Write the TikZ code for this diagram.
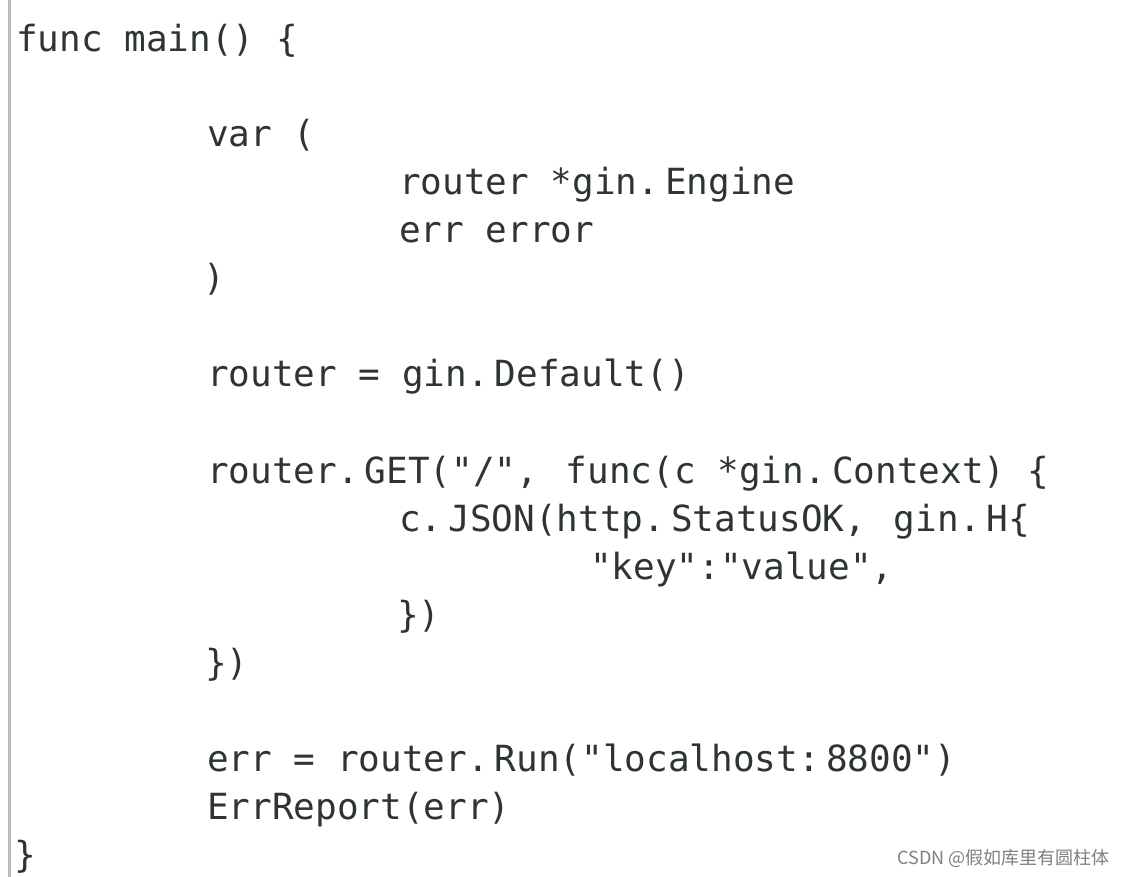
\documentclass[tikz,border=0pt]{standalone}
\usepackage{fontspec}
\newfontfamily\codefont{DejaVu Sans Mono}
\newfontfamily\cjk{Noto Sans CJK SC}
\definecolor{codecol}{HTML}{2E3436}
\definecolor{barcol}{HTML}{BBBBBB}
\begin{document}
\begin{tikzpicture}[x=1pt,y=-1pt,
  code/.style={anchor=base west,inner sep=0pt,font=\codefont\fontsize{36}{36}\selectfont,text=codecol}]
\useasboundingbox[fill=white] (0,0) rectangle (1125,877);
\draw[barcol,line width=3.5pt] (9.5,0) -- (9.5,877);
\node[code] (l1) at (16,52) {func main() \{};
\node[code] (l2) at (207,147) {var (};
\node[code] (l3) at (399,195) {router *gin.\,Engine};
\node[code] (l4) at (399,243) {err error};
\node[code] (l5) at (203,291) {)};
\node[code] (l6) at (207,387) {router = gin.\,Default()};
\node[code] (l7) at (207,483) {router.\,GET("/",\, func(c *gin.\,Context) \{};
\node[code] (l8) at (399,531) {c.\,JSON(http.\,StatusOK,\, gin.\,H\{};
\node[code] (l9) at (590,579) {"key":"value",};
\node[code] (l10) at (397,627) {\})};
\node[code] (l11) at (205,675) {\})};
\node[code] (l12) at (207,771) {err = router.\,Run("localhost:\,8800")};
\node[code] (l13) at (207,819) {ErrReport(err)};
\node[code] (l14) at (14,867) {\}};
\node[anchor=base east,inner sep=0pt,text=gray,font=\cjk\fontsize{18}{18}\selectfont] (wm) at (1110,864) {CSDN @假如库里有圆柱体};
\end{tikzpicture}
\end{document}
